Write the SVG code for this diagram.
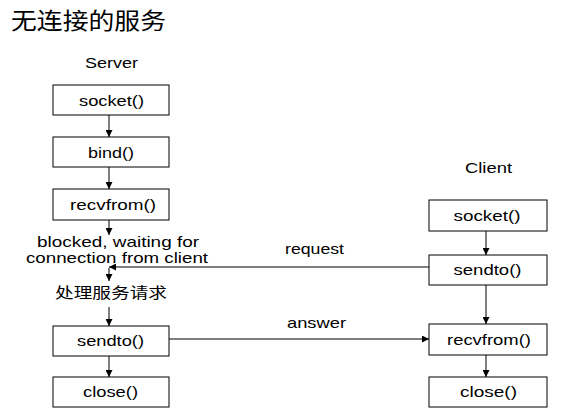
<svg xmlns="http://www.w3.org/2000/svg" width="567" height="410" viewBox="0 0 567 410">
<style>
.box{fill:#fff;stroke:#000;stroke-width:1}
.t{font-family:"Liberation Sans",Arial,sans-serif;font-size:15px;text-anchor:middle;fill:#000}
.cn{font-family:"Noto Sans CJK SC",sans-serif;fill:#000}
.ln{stroke:#000;stroke-width:1;fill:none}
</style>
<defs>
<marker id="ah" viewBox="0 0 10 10" refX="10" refY="5" markerWidth="7" markerHeight="7" orient="auto" markerUnits="userSpaceOnUse">
<path d="M0,0 L10,5 L0,10 z" fill="#000"/>
</marker>
</defs>
<rect width="567" height="410" fill="#fff"/>
<text class="cn" x="11" y="29" font-size="23" textLength="155" lengthAdjust="spacingAndGlyphs">无连接的服务</text>
<text class="t" x="111.5" y="68" textLength="53" lengthAdjust="spacingAndGlyphs">Server</text>
<text class="t" x="488.5" y="173" textLength="47" lengthAdjust="spacingAndGlyphs">Client</text>
<g id="s_socket"><rect class="box" x="53" y="85" width="116" height="30"/><text class="t" x="111.5" y="106" textLength="65" lengthAdjust="spacingAndGlyphs">socket()</text></g>
<g id="s_bind"><rect class="box" x="53" y="137" width="116" height="30"/><text class="t" x="111" y="158" textLength="46" lengthAdjust="spacingAndGlyphs">bind()</text></g>
<g id="s_recvfrom"><rect class="box" x="53" y="189" width="116" height="31"/><text class="t" x="113" y="210" textLength="86" lengthAdjust="spacingAndGlyphs">recvfrom()</text></g>
<g id="s_blocked"><text class="t" x="118" y="247" font-size="14" textLength="162" lengthAdjust="spacingAndGlyphs">blocked, waiting for</text><text class="t" x="117" y="263" font-size="14" textLength="182" lengthAdjust="spacingAndGlyphs">connection from client</text></g>
<g id="s_process"><text class="cn" x="111" y="298" font-size="15" text-anchor="middle" textLength="112" lengthAdjust="spacingAndGlyphs">处理服务请求</text></g>
<g id="s_sendto"><rect class="box" x="53" y="326" width="116" height="30"/><text class="t" x="110.5" y="346" textLength="67" lengthAdjust="spacingAndGlyphs">sendto()</text></g>
<g id="s_close"><rect class="box" x="53" y="377" width="116" height="30"/><text class="t" x="110.5" y="397" textLength="55" lengthAdjust="spacingAndGlyphs">close()</text></g>
<g id="c_socket"><rect class="box" x="429" y="200" width="118" height="31"/><text class="t" x="487" y="221" textLength="67" lengthAdjust="spacingAndGlyphs">socket()</text></g>
<g id="c_sendto"><rect class="box" x="429" y="255" width="118" height="30"/><text class="t" x="487.5" y="275" textLength="68" lengthAdjust="spacingAndGlyphs">sendto()</text></g>
<g id="c_recvfrom"><rect class="box" x="429" y="324" width="118" height="31"/><text class="t" x="489" y="345" textLength="84" lengthAdjust="spacingAndGlyphs">recvfrom()</text></g>
<g id="c_close"><rect class="box" x="429" y="377" width="118" height="30"/><text class="t" x="488.5" y="397" textLength="57" lengthAdjust="spacingAndGlyphs">close()</text></g>
<g id="connectors">
<line class="ln" x1="109" y1="115" x2="109" y2="137" marker-end="url(#ah)"/>
<line class="ln" x1="109" y1="167" x2="109" y2="189" marker-end="url(#ah)"/>
<line class="ln" x1="109" y1="220" x2="109" y2="235" marker-end="url(#ah)"/>
<line class="ln" x1="109" y1="268" x2="109" y2="281" marker-end="url(#ah)"/>
<line class="ln" x1="109" y1="307" x2="109" y2="326" marker-end="url(#ah)"/>
<line class="ln" x1="109" y1="356" x2="109" y2="377" marker-end="url(#ah)"/>
<line class="ln" x1="429" y1="267" x2="109" y2="267" marker-end="url(#ah)"/>
<line class="ln" x1="169" y1="339" x2="429" y2="339" marker-end="url(#ah)"/>
<line class="ln" x1="486" y1="231" x2="486" y2="255" marker-end="url(#ah)"/>
<line class="ln" x1="486" y1="285" x2="486" y2="324" marker-end="url(#ah)"/>
<line class="ln" x1="486" y1="355" x2="486" y2="377" marker-end="url(#ah)"/>
<text class="t" x="314.5" y="254" textLength="59" lengthAdjust="spacingAndGlyphs">request</text>
<text class="t" x="316.5" y="328" textLength="59" lengthAdjust="spacingAndGlyphs">answer</text>
</g>
</svg>
